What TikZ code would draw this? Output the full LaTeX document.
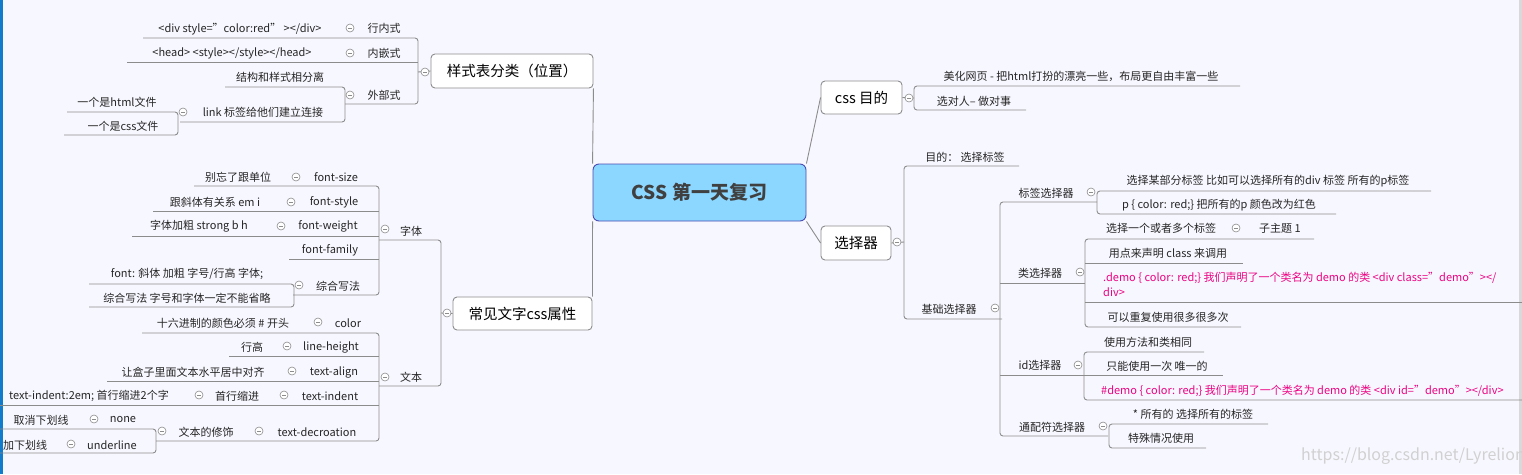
\documentclass[tikz,border=0pt]{standalone}
\usepackage{fontspec}
\setmainfont{Noto Sans CJK SC}
\begin{document}
\begin{tikzpicture}[x=1pt,y=-1pt,
  ln/.style={draw=black!45,line width=0.9pt,rounded corners=3pt},
  txt/.style={inner sep=0pt,font=\fontsize{11}{13}\selectfont,text=black!85},
  mag/.style={inner sep=0pt,anchor=west,font=\fontsize{11}{13}\selectfont,text=magenta!90!red},
  box/.style={draw=black!45,line width=0.9pt,fill=white,rounded corners=4pt,font=\fontsize{14.5}{16}\selectfont},
  cmk/.style={draw=black!45,line width=0.6pt}]
\newcommand\cm[2]{\draw[cmk,fill=white] (#1,#2) circle (4); \draw[cmk] (#1-2,#2)--(#1+2,#2);}
\fill[black!4!blue!3] (0,0) rectangle (1522,474);
\useasboundingbox (0,0) rectangle (1522,474);
\clip (0,0) rectangle (1522,474);
\draw[line width=3pt,cyan!60!blue] (1.5,0)--(1.5,474);
\draw[line width=3pt,black!15] (1520,0)--(1520,474);
% center
\node[draw=blue!40!gray,line width=0.9pt,fill=blue!35!cyan!45,rounded corners=6pt,minimum width=213,minimum height=57,font=\fontsize{19}{22}\selectfont\bfseries,text=black!75] (c) at (699.5,192.5) {CSS 第一天复习};
\node[box,minimum width=162,minimum height=34] (b1) at (512,71) {样式表分类（位置）};
\node[box,minimum width=139,minimum height=33] (b2) at (522.5,313.5) {常见文字css属性};
\node[box,minimum width=81,minimum height=33] (b3) at (861.5,97.5) {css 目的};
\node[box,minimum width=70,minimum height=34] (b4) at (856,243) {选择器};
\draw[ln] (b1.south east) -- (c.north west);
\draw[ln] (b2.north east) -- (c.south west);
\draw[ln] (b3.west) -- (c.north east);
\draw[ln] (b4.west) -- (c.south east);
% ---- group 1
\draw[ln] (143,38)--(418,38)--(418,104)--(345,104);
\draw[ln] (127,62)--(418,62);
\draw[ln] (418,72)--(b1.west);
\cm{425}{72}
\node[txt] at (240,29) {<div style="color:red" ></div>}; \cm{350}{28} \node[txt] at (384,28) {行内式};
\node[txt] at (232,53) {<head>  <style></style></head>}; \cm{350}{53} \node[txt] at (384,53) {内嵌式};
\node[txt] at (384,95) {外部式}; \cm{350}{95}
\draw[ln] (225,87)--(345,87)--(345,122)--(180,122);
\node[txt] at (280,77) {结构和样式相分离};
\node[txt] at (263,112) {link 标签给他们建立连接}; \cm{183}{112}
\draw[ln] (67,112)--(178,112)--(178,135)--(64,135);
\node[txt] at (117,102) {一个是html文件};
\node[txt] at (123,126) {一个是css文件};
% ---- group 2
\draw[ln] (379,240)--(441,240)--(441,386)--(379,386);
\draw[ln] (441,313)--(b2.west);
\cm{447}{313}
\node[txt] at (411,231) {字体}; \cm{385}{229}
\node[txt] at (411,377) {文本}; \cm{385}{377}
\draw[ln] (194,186)--(379,186)--(379,295)--(293,295);
\draw[ln] (153,211)--(379,211);
\draw[ln] (132,236)--(379,236);
\draw[ln] (289,259)--(379,259);
\node[txt] at (238,177) {别忘了跟单位}; \cm{296}{177} \node[txt] at (336,177) {font-size};
\node[txt] at (215,202) {跟斜体有关系  em  i}; \cm{291}{202} \node[txt] at (334,202) {font-style};
\node[txt] at (199,226) {字体加粗 strong  b  h}; \cm{281}{226} \node[txt] at (328,226) {font-weight};
\node[txt] at (330,250) {font-family};
\node[txt] at (338,286) {综合写法}; \cm{299}{285}
\draw[ln] (89,284)--(294,284)--(294,307)--(89,307);
\node[txt] at (187,274) {font: 斜体  加粗  字号/行高  字体;};
\node[txt] at (187,298) {综合写法 字号和字体一定不能省略};
\draw[ln] (142,333)--(379,333)--(379,441)--(156,441);
\draw[ln] (229,356)--(379,356);
\draw[ln] (107,381)--(379,381);
\draw[ln] (0,405)--(379,405);
\node[txt] at (223,323) {十六进制的颜色必须 \# 开头}; \cm{318}{322} \node[txt] at (348,323) {color};
\node[txt] at (252,347) {行高}; \cm{287}{346} \node[txt] at (331,347) {line-height};
\node[txt] at (193,372) {让盒子里面文本水平居中对齐}; \cm{292}{371} \node[txt] at (334,372) {text-align};
\node[txt] at (89,396) {text-indent:2em; 首行缩进2个字}; \cm{199}{395} \node[txt] at (237,396) {首行缩进}; \cm{284}{395} \node[txt] at (330,396) {text-indent};
\node[txt] at (317,432) {text-decroation}; \cm{259}{431} \node[txt] at (206,432) {文本的修饰}; \cm{162}{431}
\draw[ln] (0,429)--(156,429)--(156,453)--(0,453);
\node[txt] at (41,420) {取消下划线}; \cm{94}{419} \node[txt] at (123,420) {none};
\node[txt] at (25,445) {加下划线}; \cm{71}{444} \node[txt] at (112,445) {underline};
% ---- css 目的
\draw[ln] (1240,86)--(914,86)--(914,110)--(1026,110);
\draw[ln] (b3.east)--(914,98);
\cm{909}{98}
\node[txt] at (1081,76) {美化网页 -  把html打扮的漂亮一些，布局更自由丰富一些};
\node[txt] at (974,101) {选对人-- 做对事};
% ---- 选择器
\draw[ln] (1019,166)--(904,166)--(904,319)--(1002,319);
\draw[ln] (b4.east)--(904,242);
\cm{897}{242}
\node[txt] at (965,157) {目的：  选择标签};
\node[txt] at (949,309) {基础选择器}; \cm{995}{308}
\draw[ln] (1097,202)--(1000,202)--(1000,436)--(1108,436);
\draw[ln] (1000,283)--(1085,283);
\draw[ln] (1000,375)--(1084,375);
\node[txt] at (1046,193) {标签选择器}; \cm{1091}{192}
\draw[ln] (1431,191)--(1097,191)--(1097,214)--(1336,214);
\node[txt] at (1268,181) {选择某部分标签  比如可以选择所有的div 标签 所有的p标签};
\node[txt] at (1219,205) {p \{ color: red;\}  把所有的p 颜色改为红色};
\node[txt] at (1040,273) {类选择器}; \cm{1080}{272}
\draw[ln] (1314,239)--(1085,239)--(1085,327)--(1241,327);
\draw[ln] (1085,263)--(1243,263);
\draw[ln] (1085,302)--(1522,302);
\node[txt] at (1161,228) {选择一个或者多个标签}; \cm{1236}{228} \node[txt] at (1280,228) {子主题 1};
\node[txt] at (1168,253) {用点来声明  class 来调用};
\node[mag] at (1103,278) {.demo \{ color: red;\}  我们声明了一个类名为 demo 的类    <div class="demo"></};
\node[mag] at (1103,292) {div>};
\node[txt] at (1168,317) {可以重复使用很多很多次};
\node[txt] at (1040,365) {id选择器}; \cm{1078}{365}
\draw[ln] (1204,352)--(1084,352)--(1084,400)--(1522,400);
\draw[ln] (1084,375)--(1223,375);
\node[txt] at (1148,342) {使用方法和类相同};
\node[txt] at (1157,366) {只能使用一次  唯一的};
\node[mag] at (1101,391) {\#demo \{ color: red;\}  我们声明了一个类名为 demo 的类    <div id="demo"></div>};
\node[txt] at (1052,427) {通配符选择器}; \cm{1103}{426}
\draw[ln] (1268,424)--(1109,424)--(1109,448)--(1206,448);
\node[txt] at (1193,414) {* 所有的  选择所有的标签};
\node[txt] at (1161,438) {特殊情况使用};
\node[inner sep=0pt,font=\fontsize{16}{18}\selectfont,text=black!18] at (1413,456) {https://blog.csdn.net/Lyrelion};
\end{tikzpicture}
\end{document}
